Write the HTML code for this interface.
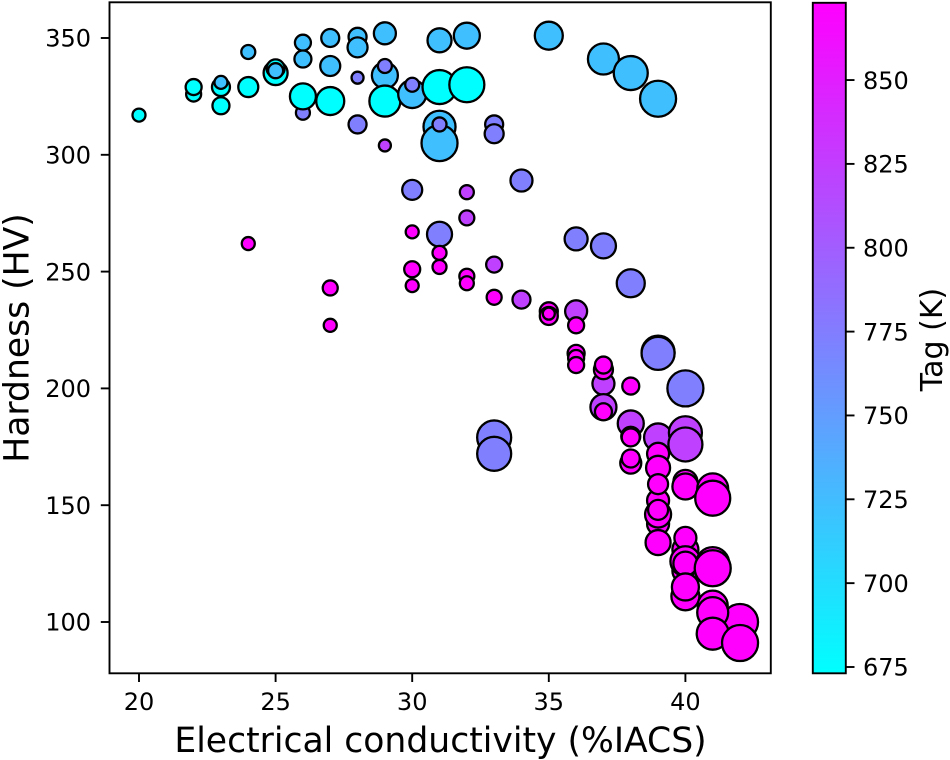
<!DOCTYPE html>
<html lang="en">
<head>
<meta charset="utf-8">
<title>Hardness vs conductivity</title>
<style>
html,body{margin:0;padding:0;background:#fff;}
svg{display:block;}
text{font-family:"DejaVu Sans","Liberation Sans",sans-serif;fill:#000;}
</style>
</head>
<body>
<svg id="chart" xmlns="http://www.w3.org/2000/svg" width="950" height="760" viewBox="0 0 950 760">
  <defs>
    <linearGradient id="coolGradient" x1="0" y1="1" x2="0" y2="0">
      <stop offset="0" stop-color="#00ffff"/>
      <stop offset="1" stop-color="#ff00ff"/>
    </linearGradient>
  </defs>
  <rect x="109.5" y="2.3" width="661.3" height="671" fill="#fff"/>
  <g id="points"></g>
  <rect x="109.5" y="2.3" width="661.3" height="671" fill="none" stroke="#000" stroke-width="1.9"/>
  <g id="xTicks"></g>
  <g id="yTicks"></g>
  <text x="440.5" y="752" text-anchor="middle" font-size="34.6">Electrical conductivity (%IACS)</text>
  <text transform="translate(28.5,338) rotate(-90)" text-anchor="middle" font-size="34.6">Hardness (HV)</text>
  <rect x="812.8" y="2.8" width="33" height="670.5" fill="url(#coolGradient)" stroke="#000" stroke-width="1.9"/>
  <g id="colorbarTicks"></g>
  <text transform="translate(942,339.5) rotate(-90)" text-anchor="middle" font-size="30">Tag (K)</text>
</svg>
<script>
const xTickLabels = [20, 25, 30, 35, 40];
const yTickLabels = [100, 150, 200, 250, 300, 350];
const colorbarTickLabels = [675, 700, 725, 750, 775, 800, 825, 850];

const conductivityValues = [
  20,22,22,23,23,23,24,24,25,25,25,24,
  26,26,26,26,27,27,27,28,28,28,28,27,27,
  29,29,29,29,29,30,30,30,30,30,30,
  31,31,31,31,31,31,31,31,32,32,32,32,32,32,
  33,33,33,33,34,34,35,35,35,35,33,33,
  36,36,36,36,36,36,37,37,37,37,37,37,37,
  38,38,38,38,38,38,38,38,
  39,39,39,39,39,39,39,39,39,39,39,39,
  40,40,40,40,40,40,40,40,40,40,40,40,
  41,41,41,41,42,41,41,41,42
];
const hardnessValues = [
  317,326,329,329,331,321,344,329,335,337,336,262,
  318,348,341,325,350,338,323,350.5,346,333,313,243,227,
  352,334,338,323,304,326,330,285,267,251,244,
  349,312,305,313,329,266,258,252,351,330,284,273,248,245,
  313,309,253,239,289,238,351,233,231,232,179,172,
  264,233,227,215,213,210,341,261,202,208,210,192,190,
  335,245,201,185,179.5,179,168,170,
  324,215.5,215,179,172,166,142,146,152,148,134,159,
  200,181,176,160,158,131,136,122,126,125,111,115,
  157,153,125,123,100,107,104,95,91
];
const tagValues = [
  673,673,673,673,723,673,723,673,673,673,723,873,
  773,723,723,673,723,723,673,723,723,773,773,873,873,
  723,723,773,673,823,723,773,773,873,873,873,
  723,723,723,773,673,773,873,873,723,673,823,823,873,873,
  773,773,823,873,773,823,723,873,873,873,773,773,
  773,823,873,873,873,873,723,773,823,873,873,823,873,
  723,773,873,823,873,873,873,873,
  723,773,773,823,873,873,873,873,873,873,873,873,
  773,823,823,873,873,873,873,873,873,873,873,873,
  873,873,873,873,873,873,873,873,873
];
const markerSizes = [
  15,17,18,20,15,19,16,22,26,20,17,15,
  16,18,19,28,20,22,30,20,22,14,20,17,15,
  24,28,16,33,14,30,16,22,15,18,15,
  26,34,38,16,36,27,16,16,28,37,16,17,17,16,
  20,21,18,17,24,20,30,20,20,14,36,36,
  25,24,18,19,18,18,33,27,24,21,19,28,19,
  36,30,19,28,21,20,23,20,
  38,35,35,30,24,26,24,28,24,22,27,22,
  38,35,36,26,28,28,24,28,32,26,30,29,
  33,37,35,38,38,32,33,34,38
];

const SVG_NS = 'http://www.w3.org/2000/svg';
function xScale(v){ return 139 + (v - 20) * 27.32; }
function yScale(v){ return 622 - (v - 100) * 2.336; }
function colorbarScale(v){ return 667 - (v - 675) * 3.354; }
function radiusScale(s){ return (s - 2) / 2; }
function coolColor(t){
  const f = Math.max(0, Math.min(1, (t - 673) / 200));
  const r = Math.round(255 * f);
  const g = Math.round(255 * (1 - f));
  return 'rgb(' + r + ',' + g + ',255)';
}
function make(tag, parent){
  const el = document.createElementNS(SVG_NS, tag);
  parent.appendChild(el);
  return el;
}

const pointsGroup = document.getElementById('points');
conductivityValues.forEach(function(x, i){
  const c = make('circle', pointsGroup);
  
  
  c.setAttribute('cx', xScale(x));
  c.setAttribute('cy', yScale(hardnessValues[i]));
  c.setAttribute('r', radiusScale(markerSizes[i]));
  c.setAttribute('fill', coolColor(tagValues[i]));
  c.setAttribute('stroke', '#000');
  c.setAttribute('stroke-width', '2.3');
});

const xTicksGroup = document.getElementById('xTicks');
xTickLabels.forEach(function(v){
  const px = xScale(v);
  const line = make('line', xTicksGroup);
  
  
  line.setAttribute('x1', px);
  line.setAttribute('x2', px);
  line.setAttribute('y1', 673.3);
  line.setAttribute('y2', 682);
  line.setAttribute('stroke', '#000');
  line.setAttribute('stroke-width', '1.9');
  const t = make('text', xTicksGroup);
  
  
  t.setAttribute('x', px);
  t.setAttribute('y', 710);
  t.setAttribute('text-anchor', 'middle');
  t.setAttribute('font-size', '24');
  t.textContent = v;
});

const yTicksGroup = document.getElementById('yTicks');
yTickLabels.forEach(function(v){
  const py = yScale(v);
  const line = make('line', yTicksGroup);
  
  
  line.setAttribute('x1', 100.8);
  line.setAttribute('x2', 109.5);
  line.setAttribute('y1', py);
  line.setAttribute('y2', py);
  line.setAttribute('stroke', '#000');
  line.setAttribute('stroke-width', '1.9');
  const t = make('text', yTicksGroup);
  
  
  t.setAttribute('x', 91);
  t.setAttribute('y', py + 8.7);
  t.setAttribute('text-anchor', 'end');
  t.setAttribute('font-size', '24');
  t.textContent = v;
});

const colorbarTicksGroup = document.getElementById('colorbarTicks');
colorbarTickLabels.forEach(function(v){
  const py = colorbarScale(v);
  const line = make('line', colorbarTicksGroup);
  
  
  line.setAttribute('x1', 845.8);
  line.setAttribute('x2', 854.5);
  line.setAttribute('y1', py);
  line.setAttribute('y2', py);
  line.setAttribute('stroke', '#000');
  line.setAttribute('stroke-width', '1.9');
  const t = make('text', colorbarTicksGroup);
  
  
  t.setAttribute('x', 863);
  t.setAttribute('y', py + 8.7);
  t.setAttribute('font-size', '24');
  t.textContent = v;
});
</script>
</body>
</html>
